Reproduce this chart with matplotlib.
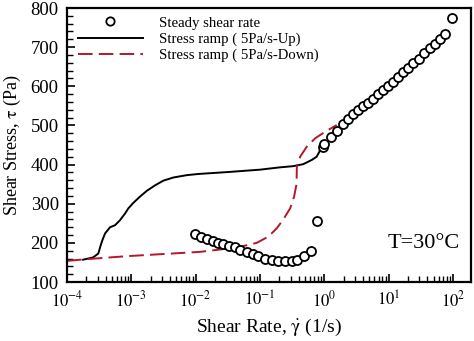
import numpy as np
import matplotlib
matplotlib.use('Agg')
import matplotlib.pyplot as plt

plt.rcParams['font.family'] = ['Liberation Serif', 'DejaVu Serif']
plt.rcParams['mathtext.fontset'] = 'stix'

# steady shear measurements, high-rate branch
steady_hi_rate = [0.94, 1.0, 1.26, 1.56, 1.94, 2.37, 2.84, 3.4, 4.05, 4.85, 5.8, 6.9,
                  8.3, 9.9, 11.9, 14.2, 17.0, 20.3, 24.3, 29.5, 36.0, 44.0, 52.8, 63.0,
                  75.6, 96.0]
steady_hi_stress = [446, 452, 470, 486, 504, 517, 528, 539, 549, 558, 568, 580,
                    590, 601, 612, 623, 636, 647, 659, 671, 684, 697, 708, 720,
                    733, 774]

# steady shear measurements, low-rate branch
steady_lo_rate = [0.0098, 0.012, 0.0149, 0.0185, 0.0225, 0.027, 0.0334, 0.041, 0.049,
                  0.062, 0.077, 0.094, 0.12, 0.153, 0.193, 0.245, 0.31, 0.38, 0.485,
                  0.62, 0.76]
steady_lo_stress = [223, 216, 209, 205, 200, 197, 192, 189, 182,
                    177, 171, 166, 160, 156, 154, 154, 154, 157, 166,
                    180, 255]

# stress ramp up
up_rate = [1.78e-4, 2.56e-4, 3.07e-4, 3.34e-4, 3.55e-4, 3.9e-4, 4.67e-4, 5.57e-4,
           6.67e-4, 7.98e-4, 8.97e-4, 1.07e-3, 1.36e-3, 1.74e-3, 2.34e-3, 3.15e-3,
           4.5e-3, 7.28e-3, 1.1e-2, 3.2e-2, 0.1, 0.206, 0.33, 0.47, 0.64, 0.76,
           0.84, 0.88, 0.95]
up_stress = [157, 163, 173, 194, 207, 224, 240, 245,
             258, 275, 288, 302, 318, 333, 347, 359,
             367, 373, 376, 381, 387, 393, 396, 401, 412, 420,
             433, 446, 454]

# stress ramp down
down_rate = [1.0e-4, 1.9e-4, 8.5e-4, 2.8e-3, 1.17e-2, 2.4e-2, 4.9e-2, 8.9e-2,
             0.135, 0.182, 0.231, 0.294, 0.339, 0.37, 0.374, 0.421, 0.535,
             0.72, 1.03, 1.56]
down_stress = [154, 158, 166, 171, 177, 183, 190, 200,
               216, 237, 260, 288, 318, 350, 394, 420, 446,
               467, 484, 501]

x_major = [1e-4, 1e-3, 1e-2, 1e-1, 1e0, 1e1, 1e2]
x_labels = [r'$10^{-4}$', r'$10^{-3}$', r'$10^{-2}$', r'$10^{-1}$',
            r'$10^{0}$', r'$10^{1}$', r'$10^{2}$']

red = '#b3172c'

fig = plt.figure(figsize=(4.74, 3.41), dpi=100)
ax = fig.add_axes([0.1414, 0.173, 0.852, 0.8035])

ax.plot(up_rate, up_stress, color='black', lw=1.4, zorder=2)
ax.plot(down_rate, down_stress, color=red, lw=1.4, dashes=(7.5, 3.2), zorder=2)
ax.plot(steady_lo_rate, steady_lo_stress, 'o', ms=6.5, mfc='white', mec='black',
        mew=1.3, zorder=3)
ax.plot(steady_hi_rate, steady_hi_stress, 'o', ms=6.5, mfc='white', mec='black',
        mew=1.3, zorder=3)

# legend handles
h1, = ax.plot([], [], 'o', ms=6, mfc='white', mec='black', mew=1.3)
h2, = ax.plot([], [], color='black', lw=1.4)
h3, = ax.plot([], [], color=red, lw=1.4, dashes=(7.5, 3.2))
ax.legend([h1, h2, h3],
          ['Steady shear rate', 'Stress ramp ( 5Pa/s-Up)', 'Stress ramp ( 5Pa/s-Down)'],
          loc='upper left', bbox_to_anchor=(0.0, 1.01), frameon=False, fontsize=10.6,
          handlelength=4.4, handletextpad=1.1, labelspacing=0.2, borderaxespad=0.35)

ax.set_xscale('log')
ax.set_xlim(1e-4, 190)
ax.set_ylim(100, 800)
ax.set_xticks(x_major, x_labels)
ax.xaxis.set_minor_locator(matplotlib.ticker.FixedLocator(
    [m * 10.0**e for e in range(-4, 2) for m in range(2, 10)]))
ax.xaxis.set_minor_formatter(matplotlib.ticker.NullFormatter())
ax.set_yticks(np.arange(100, 801, 100))
ax.yaxis.set_minor_locator(matplotlib.ticker.MultipleLocator(20))

ax.tick_params(which='both', direction='in', top=False, right=False)
ax.tick_params(which='major', length=6, width=1.2)
ax.tick_params(which='minor', length=4, width=1.0)
ax.tick_params(axis='x', pad=6, labelsize=12)
ax.tick_params(axis='y', pad=6, labelsize=13.5)
for s in ax.spines.values():
    s.set_linewidth(1.6)

ax.set_xlabel(r'Shear Rate, $\dot{\mathrm{\gamma}}$ (1/s)', fontsize=14, labelpad=5)
ax.set_ylabel(r'Shear Stress, $\mathrm{\tau}$ (Pa)', fontsize=13)
ax.yaxis.set_label_coords(-0.108, 0.5)

ax.text(0.973, 0.142, 'T=30°C', transform=ax.transAxes, ha='right', va='center',
        fontsize=16)

fig.savefig('out.png', dpi=100)
